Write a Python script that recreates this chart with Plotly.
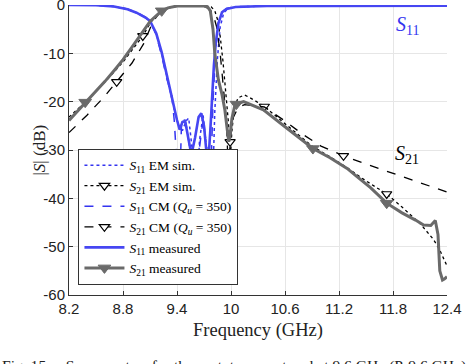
import plotly.graph_objects as go

# ---------------- data ----------------
# S11 measured
S11_MEAS_F = [8.2, 8.5, 8.7, 8.85, 8.95, 9.05, 9.1, 9.17, 9.23, 9.29, 9.33, 9.37, 9.4, 9.43,
              9.46, 9.49, 9.52, 9.56, 9.6, 9.64, 9.67, 9.7, 9.73, 9.75, 9.77, 9.79, 9.81,
              9.83, 9.86, 9.9, 9.95, 10.05, 10.4, 11.0, 12.4]
S11_MEAS_DB = [0.0, -0.05, -0.3, -0.9, -1.6, -2.6, -3.3, -5.9, -9.8, -14.8, -18.5, -21.8, -23.8, -25.8,
               -24.2, -24.0, -27.0, -31.0, -27.5, -23.2, -22.4, -25.0, -31.0, -32.0, -26.0, -19.0, -12.5,
               -8.0, -3.8, -1.5, -0.8, -0.4, -0.2, -0.18, -0.15]

# S11 EM simulation
S11_EM_F = [8.2, 8.5, 8.7, 8.85, 8.95, 9.05, 9.1, 9.17, 9.23, 9.29, 9.34, 9.38, 9.42, 9.46,
            9.5, 9.53, 9.57, 9.61, 9.65, 9.69, 9.73, 9.78, 9.82, 9.85, 9.88, 9.92, 9.97,
            10.05, 10.4, 12.4]
S11_EM_DB = [0.0, -0.05, -0.3, -0.9, -1.6, -2.6, -3.4, -6.0, -10.0, -15.0, -19.0, -22.5, -25.0, -26.0,
             -24.0, -23.4, -30.0, -45.0, -28.0, -22.8, -30.0, -48.0, -22.0, -11.0, -4.5, -1.6, -0.7,
             -0.4, -0.2, -0.15]

# S11 circuit model (Qu = 350)
S11_CM_F = [8.2, 8.5, 8.7, 8.85, 8.95, 9.05, 9.1, 9.17, 9.23, 9.29, 9.34, 9.37, 9.4, 9.42,
            9.45, 9.47, 9.5, 9.54, 9.58, 9.62, 9.66, 9.69, 9.73, 9.76, 9.8, 9.83, 9.86,
            9.9, 9.95, 10.05, 10.4, 12.4]
S11_CM_DB = [0.0, -0.05, -0.3, -0.8, -1.5, -2.5, -3.3, -6.2, -10.5, -15.5, -18.3, -24.0, -33.4, -45.0,
             -24.5, -23.4, -24.5, -29.3, -45.0, -34.0, -28.0, -23.8, -29.3, -45.0, -20.0, -9.0, -3.8,
             -1.5, -0.7, -0.35, -0.2, -0.15]

# S21 EM simulation
S21_EM_F = [8.2, 8.4, 8.6, 8.8, 9.02, 9.1, 9.2, 9.3, 9.4, 9.7, 9.78, 9.82, 9.85, 9.88,
            9.91, 9.94, 9.97, 9.995, 10.01, 10.04, 10.08, 10.15, 10.25, 10.37, 10.6, 10.9,
            11.1, 11.3, 11.5, 11.73, 11.9, 12.1, 12.25, 12.32, 12.4]
S21_EM_DB = [-23.2, -19.8, -15.9, -11.8, -6.4, -3.8, -1.6, -0.5, -0.2, -0.1, -0.4, -1.2, -3.0, -6.5,
             -11.5, -17.0, -24.0, -31.0, -26.0, -21.0, -19.2, -18.6, -19.6, -21.0, -24.6, -29.2,
             -31.4, -33.8, -36.4, -39.1, -41.8, -45.2, -48.5, -50.7, -54.0]
S21_EM_MARK_F = [9.02, 10.37, 11.73]

# S21 circuit model (Qu = 350)
S21_CM_F = [8.2, 8.4, 8.6, 8.73, 8.9, 9.03, 9.13, 9.2, 9.3, 9.4, 9.7, 9.76, 9.8, 9.84,
            9.88, 9.92, 9.95, 9.965, 9.975, 9.985, 9.99, 10.02, 10.08, 10.15, 10.25, 10.37,
            10.6, 10.8, 11.0, 11.25, 11.5, 11.8, 12.0, 12.2, 12.4]
S21_CM_DB = [-26.4, -22.8, -18.8, -15.9, -12.0, -8.0, -3.5, -1.8, -0.6, -0.3, -0.3, -0.8, -1.8, -4.5,
             -10.0, -18.0, -24.0, -32.0, -45.0, -32.0, -28.3, -23.5, -21.2, -20.6, -20.8, -21.1,
             -24.0, -26.8, -29.2, -31.2, -32.9, -34.8, -36.1, -37.4, -38.7]
S21_CM_MARK_F = [8.73, 9.99, 11.25]

# S21 measured
S21_MEAS_F = [8.2, 8.3, 8.38, 8.5, 8.6, 8.7, 8.8, 8.9, 9.0, 9.1, 9.23, 9.3, 9.4, 9.6,
              9.7, 9.74, 9.77, 9.8, 9.82, 9.86, 9.9, 9.93, 9.96, 9.975, 9.99, 10.01, 10.04,
              10.06, 10.14, 10.36, 10.6, 10.91, 11.1, 11.29, 11.4, 11.55, 11.73, 11.9,
              12.05, 12.14, 12.22, 12.27, 12.3, 12.32, 12.35, 12.37, 12.4]
S21_MEAS_DB = [-23.9, -21.9, -20.1, -17.8, -15.8, -13.6, -11.3, -8.7, -6.0, -3.4, -1.2, -0.6, -0.2, -0.1,
               -0.2, -0.4, -1.2, -5.0, -10.0, -15.5, -18.5, -21.5, -26.0, -28.3, -27.0, -23.5, -21.0,
               -20.5, -20.0, -21.7, -25.2, -29.7, -31.6, -33.8, -35.5, -37.8, -41.0, -43.0,
               -44.5, -45.5, -45.6, -44.6, -47.5, -55.0, -56.9, -56.7, -56.2]
S21_MEAS_MARK_F = [8.38, 9.23, 10.06, 10.91, 11.73]

X_TICKS = [8.2, 8.8, 9.4, 10.0, 10.6, 11.2, 11.8, 12.4]
X_TICK_TEXT = ["8.2", "8.8", "9.4", "10", "10.6", "11.2", "11.8", "12.4"]
Y_TICKS = [0, -10, -20, -30, -40, -50, -60]
Y_TICK_TEXT = ["0", "-10", "-20", "-30", "-40", "-50", "-60"]

NAMES = ["<i>S</i><sub>11</sub> EM sim.",
         "<i>S</i><sub>21</sub> EM sim.",
         "<i>S</i><sub>11</sub> CM (<i>Q<sub>u</sub></i> = 350)",
         "<i>S</i><sub>21</sub> CM (<i>Q<sub>u</sub></i> = 350)",
         "<i>S</i><sub>11</sub> measured",
         "<i>S</i><sub>21</sub> measured"]

# ---------------- figure ----------------
BLUE = "#3434f0"
BLUE_M = "#4646f2"
GRAY = "#6a6a6a"
SERIF = "Liberation Serif"
SANS = "Liberation Sans"

fig = go.Figure()


def idx(freqs, marks):
    return [freqs.index(m) for m in marks]


fig.add_trace(go.Scatter(x=S11_EM_F, y=S11_EM_DB, mode="lines", name=NAMES[0],
                         line=dict(color=BLUE, width=1.5, dash="dot")))
fig.add_trace(go.Scatter(x=S21_EM_F, y=S21_EM_DB, mode="lines+markers", name=NAMES[1],
                         line=dict(color="black", width=1.3, dash="dot"),
                         marker=dict(symbol="triangle-down", size=9, color="white",
                                     line=dict(color="black", width=1.2)),
                         selectedpoints=idx(S21_EM_F, S21_EM_MARK_F),
                         unselected=dict(marker=dict(opacity=0))))
fig.add_trace(go.Scatter(x=S11_CM_F, y=S11_CM_DB, mode="lines", name=NAMES[2],
                         line=dict(color=BLUE, width=1.5, dash="dash")))
fig.add_trace(go.Scatter(x=S21_CM_F, y=S21_CM_DB, mode="lines+markers", name=NAMES[3],
                         line=dict(color="black", width=1.3, dash="dash"),
                         marker=dict(symbol="triangle-down", size=9, color="white",
                                     line=dict(color="black", width=1.2)),
                         selectedpoints=idx(S21_CM_F, S21_CM_MARK_F),
                         unselected=dict(marker=dict(opacity=0))))
fig.add_trace(go.Scatter(x=S11_MEAS_F, y=S11_MEAS_DB, mode="lines", name=NAMES[4],
                         line=dict(color=BLUE_M, width=2.6)))
fig.add_trace(go.Scatter(x=S21_MEAS_F, y=S21_MEAS_DB, mode="lines+markers", name=NAMES[5],
                         line=dict(color=GRAY, width=3),
                         marker=dict(symbol="triangle-down", size=11, color=GRAY,
                                     line=dict(color=GRAY, width=1)),
                         selectedpoints=idx(S21_MEAS_F, S21_MEAS_MARK_F),
                         unselected=dict(marker=dict(opacity=0))))

fig.update_layout(
    width=474, height=364,
    margin=dict(l=69, r=27, t=5, b=69, autoexpand=False),
    paper_bgcolor="white", plot_bgcolor="white",
    showlegend=True,
    legend=dict(x=0.025, y=0.035, xanchor="left", yanchor="bottom",
                bgcolor="white", bordercolor="#333333", borderwidth=1,
                font=dict(family=SERIF, size=13.5, color="black"),
                itemwidth=40, tracegroupgap=0, traceorder="normal"),
    xaxis=dict(range=[8.2, 12.4], tickvals=X_TICKS, ticktext=X_TICK_TEXT,
               ticks="inside", ticklen=4, tickcolor="#333333",
               showgrid=True, gridcolor="#e6e6e6", gridwidth=1,
               showline=True, linecolor="#333333", linewidth=1, mirror=False,
               zeroline=False, ticklabeloverflow="allow", automargin=False,
               tickfont=dict(family=SANS, size=15, color="#222222")),
    yaxis=dict(range=[-60, 0], tickvals=Y_TICKS, ticktext=Y_TICK_TEXT,
               ticks="inside", ticklen=4, tickcolor="#333333",
               showgrid=True, gridcolor="#e6e6e6", gridwidth=1,
               showline=True, linecolor="#333333", linewidth=1, mirror=False,
               zeroline=False, ticklabeloverflow="allow", automargin=False,
               tickfont=dict(family=SANS, size=15, color="#222222")),
)

fig.add_annotation(x=0.5, y=-0.121, xref="paper", yref="paper",
                   xanchor="center", yanchor="middle",
                   text="Frequency (GHz)", showarrow=False,
                   font=dict(family=SERIF, size=18.5, color="#222222"))
fig.add_annotation(x=-0.111, y=0.5, xref="paper", yref="paper",
                   text="|<i>S</i>| (dB)", textangle=-90, showarrow=False,
                   font=dict(family=SERIF, size=17, color="#222222"))
fig.add_annotation(x=11.96, y=-4.3, xref="x", yref="y",
                   text="<i>S</i><sub>11</sub>", showarrow=False,
                   font=dict(family=SERIF, size=20, color=BLUE))
fig.add_annotation(x=11.96, y=-31.0, xref="x", yref="y",
                   text="<i>S</i><sub>21</sub>", showarrow=False,
                   font=dict(family=SERIF, size=20, color="black"))
fig.add_annotation(x=-0.183, y=-0.207, xref="paper", yref="paper",
                   xanchor="left", yanchor="top",
                   text="Fig. 15.    S-parameters for the prototype centered at 9.6 GHz (P-9.6 GHz)",
                   showarrow=False,
                   font=dict(family=SERIF, size=15.6, color="#222222"))

fig.write_html("out.html", config={"displayModeBar": False},
               post_script="document.body.style.margin='0';document.body.style.overflow='hidden';")
